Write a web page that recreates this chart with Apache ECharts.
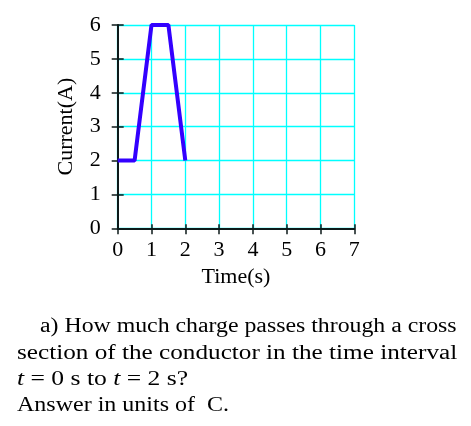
<!DOCTYPE html>
<html><head><meta charset="utf-8">
<script src="https://cdn.jsdelivr.net/npm/echarts@6/dist/echarts.min.js"></script>
<style>html,body{margin:0;padding:0;background:#fff}#c{width:471px;height:426px}</style>
</head><body><div id="c"></div>
<script>
const timeS = [0, 0.5, 1, 1.5, 2];
const currentA = [2, 2, 6, 6, 2];
const xTicks = [0, 1, 2, 3, 4, 5, 6, 7];
const yTicks = [0, 1, 2, 3, 4, 5, 6];
const questionLines = [
  'a) How much charge passes through a cross',
  'section of the conductor in the time interval',
  '{i|t} = 0 s to {i|t} = 2 s?',
  'Answer in units of  C.'
];

const FONT = '"Liberation Serif", "DejaVu Serif", serif';
const AXIS = '#0d1a1a';
const chart = echarts.init(document.getElementById('c'), null, {renderer: 'canvas'});
const grid = {left: 117.7, right: 116.7, top: 25, bottom: 197.7};
const xBase = {type: 'value', min: xTicks[0], max: xTicks[xTicks.length - 1], interval: 1};
const yBase = {type: 'value', min: yTicks[0], max: yTicks[yTicks.length - 1], interval: 1};
const tickStyle = {fontFamily: FONT, fontSize: 22, color: '#000'};
const nameStyle = {fontFamily: FONT, fontSize: 22, color: '#000'};

const lineLayout = [
  {x: 40, sx: 1.19},
  {x: 17, sx: 1.26},
  {x: 17, sx: 1.28},
  {x: 17, sx: 1.2}
];
const lineTexts = questionLines.map((t, k) => ({
  type: 'text',
  x: lineLayout[k].x,
  y: 317 + k * 26.3,
  scaleX: lineLayout[k].sx,
  style: {
    text: t,
    font: '20px ' + FONT,
    fill: '#000',
    rich: {i: {fontStyle: 'italic', fontFamily: FONT, fontSize: 20}}
  }
}));

chart.setOption({
  animation: false,
  grid: grid,
  xAxis: [
    Object.assign({}, xBase, {
      name: 'Time(s)', nameLocation: 'middle', nameGap: 38,
      nameTextStyle: nameStyle,
      axisLine: {show: true, onZero: false, lineStyle: {color: AXIS, width: 2}},
      axisTick: {show: true, inside: false, length: 6, lineStyle: {color: AXIS, width: 1.5}},
      axisLabel: Object.assign({margin: 11}, tickStyle),
      splitLine: {show: true, lineStyle: {color: '#00ffff', width: 1.3}}
    }),
    Object.assign({}, xBase, {
      position: 'bottom', axisLine: {show: false, onZero: false},
      axisTick: {show: true, inside: true, length: 4, lineStyle: {color: AXIS, width: 1.5}},
      axisLabel: {show: false}, splitLine: {show: false}
    })
  ],
  yAxis: [
    Object.assign({}, yBase, {
      name: 'Current(A)', nameLocation: 'middle', nameGap: 40,
      nameTextStyle: nameStyle,
      axisLine: {show: true, onZero: false, lineStyle: {color: AXIS, width: 2}},
      axisTick: {show: true, inside: false, length: 6, lineStyle: {color: AXIS, width: 1.5}},
      axisLabel: Object.assign({margin: 17}, tickStyle),
      splitLine: {show: true, lineStyle: {color: '#00ffff', width: 1.3}}
    }),
    Object.assign({}, yBase, {
      position: 'left', axisLine: {show: false, onZero: false},
      axisTick: {show: true, inside: true, length: 6, lineStyle: {color: AXIS, width: 1.5}},
      axisLabel: {show: false}, splitLine: {show: false}
    })
  ],
  series: [{
    type: 'line',
    data: timeS.map((t, i) => [t, currentA[i]]),
    showSymbol: false,
    lineStyle: {color: '#3300ff', width: 4},
    z: 5
  }],
  graphic: lineTexts
});
</script></body></html>
